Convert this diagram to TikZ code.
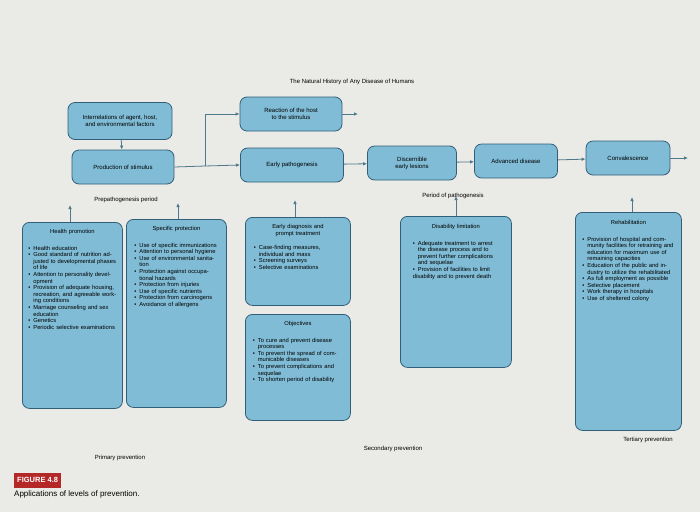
\documentclass[tikz,border=0pt]{standalone}
\usepackage{fontspec}
\setmainfont{Liberation Sans}
\usetikzlibrary{arrows.meta}
\definecolor{bg}{RGB}{234,234,230}
\definecolor{bfill}{RGB}{128,188,214}
\definecolor{bdraw}{RGB}{50,95,120}
\definecolor{arr}{RGB}{80,120,140}
\definecolor{figred}{RGB}{180,40,40}
\newcommand{\bi}{\par\hangindent=5pt\hangafter=1\makebox[5pt][l]{\textbullet}}
\tikzset{
 box/.style={draw=bdraw,line width=0.8pt,fill=bfill,rounded corners=7pt,inner sep=2pt,align=center,font=\fontsize{6}{7}\selectfont},
 tbox/.style={draw=bdraw,line width=0.8pt,fill=bfill,rounded corners=7pt,anchor=north west},
 txt/.style={anchor=north,align=left,font=\fontsize{5.8}{6.6}\selectfont,inner sep=0pt},
 lab/.style={font=\fontsize{6}{7}\selectfont},
 ar/.style={draw=arr,line width=0.8pt,-{Latex[length=4pt,width=3.5pt]}},
}
\begin{document}
\begin{tikzpicture}[x=1pt,y=-1pt]
\fill[bg] (0,0) rectangle (700,512);
\useasboundingbox (0,0) rectangle (700,512);
\node[lab] (title) at (352,82) {The Natural History of Any Disease of Humans};
\node[box,minimum width=104pt,minimum height=37pt] (inter) at (120,121) {Interrelations of agent, host,\\and environmental factors};
\node[box,minimum width=102pt,minimum height=34pt] (prod) at (123,167) {Production of stimulus};
\node[box,minimum width=102pt,minimum height=34pt] (react) at (291,114) {Reaction of the host\\to the stimulus};
\node[box,minimum width=103pt,minimum height=34pt] (early) at (292,165) {Early pathogenesis};
\node[box,minimum width=89pt,minimum height=34pt] (disc) at (412,163) {Discernible\\early lesions};
\node[box,minimum width=83pt,minimum height=34pt] (adv) at (516,161) {Advanced disease};
\node[box,minimum width=84pt,minimum height=34pt] (conv) at (628,158) {Convalescence};
\coordinate (j) at (205,166);
\coordinate (rend) at (358,114);
\coordinate (cend) at (688,158);
\draw[ar] (inter) -- (prod);
\draw[draw=arr,line width=0.8pt] (prod.east) -- (j);
\draw[ar] (j) |- (react.west);
\draw[ar] (j) -- (early.west);
\draw[ar] (react) -- (rend);
\draw[ar] (early) -- (disc);
\draw[ar] (disc) -- (adv);
\draw[ar] (adv) -- (conv);
\draw[ar] (conv) -- (cend);
\node[lab] (prep) at (126,200) {Prepathogenesis period};
\node[lab] (pp) at (453,196) {Period of pathogenesis};
% boxes
\node[tbox,minimum width=100pt,minimum height=186pt] (hp) at (22,222) {};
\node[tbox,minimum width=100pt,minimum height=188pt] (sp) at (126,219) {};
\node[tbox,minimum width=105pt,minimum height=88pt] (ed) at (245,217) {};
\node[tbox,minimum width=105pt,minimum height=106pt] (ob) at (245,314) {};
\node[tbox,minimum width=111pt,minimum height=151pt] (dl) at (400,216) {};
\node[tbox,minimum width=106pt,minimum height=218pt] (rh) at (575,212) {};
\foreach \n/\x/\y in {hp/70/205, sp/178/203, ed/295/200, dl/456/196, rh/632/197}{
 \coordinate (u\n) at (\x,\y);
 \draw[ar] (u\n |- \n.north) -- (u\n);
}
\node[txt,text width=88pt] (hpt) at ([yshift=-7pt]hp.north) {\hfil Health promotion\par\vspace{10pt}
\bi Health education\bi Good standard of nutrition adjusted to developmental phases of life\bi Attention to personality development\bi Provision of adequate housing, recreation, and agreeable working conditions\bi Marriage counseling and sex education\bi Genetics\bi Periodic selective examinations};
\node[txt,text width=84pt] (spt) at ([yshift=-7pt]sp.north) {\hfil Specific protection\par\vspace{10pt}
\bi Use of specific immunizations\bi Attention to personal hygiene\bi Use of environmental sanitation\bi Protection against occupational hazards\bi Protection from injuries\bi Use of specific nutrients\bi Protection from carcinogens\bi Avoidance of allergens};
\node[txt,text width=88pt] (edt) at ([yshift=-7pt]ed.north) {\centering Early diagnosis and\\prompt treatment\par\vspace{8pt}\raggedright
\bi Case-finding measures, individual and mass\bi Screening surveys\bi Selective examinations};
\node[txt,text width=90pt] (obt) at ([yshift=-7pt]ob.north) {\hfil Objectives\par\vspace{10pt}
\bi To cure and prevent disease processes\bi To prevent the spread of communicable diseases\bi To prevent complications and sequelae\bi To shorten period of disability};
\node[txt,text width=86pt] (dlt) at ([yshift=-8pt]dl.north) {\hfil Disability limitation\par\vspace{10pt}
\bi Adequate treatment to arrest the disease process and to prevent further complications and sequelae\bi Provision of facilities to limit disability and to prevent death};
\node[txt,text width=92pt] (rht) at ([yshift=-8pt]rh.north) {\hfil Rehabilitation\par\vspace{10pt}
\bi Provision of hospital and community facilities for retraining and education for maximum use of remaining capacities\bi Education of the public and industry to utilize the rehabilitated\bi As full employment as possible\bi Selective placement\bi Work therapy in hospitals\bi Use of sheltered colony};
\node[lab] (prim) at (120,458) {Primary prevention};
\node[lab] (sec) at (393,449) {Secondary prevention};
\node[lab] (ter) at (648,440) {Tertiary prevention};
\node[fill=figred,text=white,font=\bfseries\fontsize{7.5}{8}\selectfont,anchor=west,minimum height=15pt,inner sep=3pt] (fig) at (14,480) {FIGURE 4.8};
\node[anchor=west,font=\fontsize{8}{9}\selectfont,inner sep=0pt] (cap) at (14,494) {Applications of levels of prevention.};
\end{tikzpicture}
\end{document}
